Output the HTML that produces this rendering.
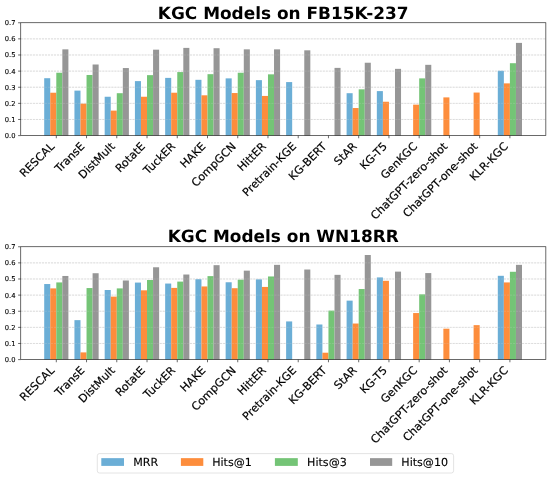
<!DOCTYPE html>
<html><head><meta charset="utf-8"><title>KGC Models</title>
<style>html,body{margin:0;padding:0;background:#fff}body{width:550px;height:477px;overflow:hidden}</style></head>
<body>
<svg width="550" height="477" viewBox="0 0 550 477" style="display:block" text-rendering="geometricPrecision">
<rect width="550" height="477" fill="#fff"/>
<text x="283.20" y="18.65" text-anchor="middle" font-family="'DejaVu Sans', 'Liberation Sans', sans-serif" font-weight="bold" font-size="16.93" fill="#000">KGC Models on FB15K-237</text>
<line x1="20.75" x2="545.85" y1="119.48" y2="119.48" stroke="#b0b0b0" stroke-opacity="0.7" stroke-width="0.6" stroke-dasharray="2.1 0.92"/>
<line x1="20.75" x2="545.85" y1="103.36" y2="103.36" stroke="#b0b0b0" stroke-opacity="0.7" stroke-width="0.6" stroke-dasharray="2.1 0.92"/>
<line x1="20.75" x2="545.85" y1="87.24" y2="87.24" stroke="#b0b0b0" stroke-opacity="0.7" stroke-width="0.6" stroke-dasharray="2.1 0.92"/>
<line x1="20.75" x2="545.85" y1="71.11" y2="71.11" stroke="#b0b0b0" stroke-opacity="0.7" stroke-width="0.6" stroke-dasharray="2.1 0.92"/>
<line x1="20.75" x2="545.85" y1="54.99" y2="54.99" stroke="#b0b0b0" stroke-opacity="0.7" stroke-width="0.6" stroke-dasharray="2.1 0.92"/>
<line x1="20.75" x2="545.85" y1="38.87" y2="38.87" stroke="#b0b0b0" stroke-opacity="0.7" stroke-width="0.6" stroke-dasharray="2.1 0.92"/>
<rect x="44.20" y="78.21" width="6.05" height="57.39" fill="#6baed6"/>
<rect x="50.25" y="92.72" width="6.05" height="42.88" fill="#fd8d3c"/>
<rect x="56.30" y="72.73" width="6.05" height="62.87" fill="#74c476"/>
<rect x="62.35" y="49.35" width="6.05" height="86.25" fill="#969696"/>
<rect x="74.44" y="90.62" width="6.05" height="44.98" fill="#6baed6"/>
<rect x="80.49" y="103.68" width="6.05" height="31.92" fill="#fd8d3c"/>
<rect x="86.54" y="74.98" width="6.05" height="60.62" fill="#74c476"/>
<rect x="92.59" y="64.50" width="6.05" height="71.10" fill="#969696"/>
<rect x="104.68" y="96.75" width="6.05" height="38.85" fill="#6baed6"/>
<rect x="110.73" y="110.61" width="6.05" height="24.99" fill="#fd8d3c"/>
<rect x="116.78" y="93.20" width="6.05" height="42.40" fill="#74c476"/>
<rect x="122.83" y="68.05" width="6.05" height="67.55" fill="#969696"/>
<rect x="134.92" y="81.11" width="6.05" height="54.49" fill="#6baed6"/>
<rect x="140.97" y="96.75" width="6.05" height="38.85" fill="#fd8d3c"/>
<rect x="147.02" y="75.14" width="6.05" height="60.46" fill="#74c476"/>
<rect x="153.07" y="49.67" width="6.05" height="85.93" fill="#969696"/>
<rect x="165.16" y="77.89" width="6.05" height="57.71" fill="#6baed6"/>
<rect x="171.21" y="92.72" width="6.05" height="42.88" fill="#fd8d3c"/>
<rect x="177.26" y="72.08" width="6.05" height="63.52" fill="#74c476"/>
<rect x="183.31" y="47.90" width="6.05" height="87.70" fill="#969696"/>
<rect x="195.40" y="79.82" width="6.05" height="55.78" fill="#6baed6"/>
<rect x="201.45" y="95.30" width="6.05" height="40.30" fill="#fd8d3c"/>
<rect x="207.50" y="74.18" width="6.05" height="61.42" fill="#74c476"/>
<rect x="213.55" y="48.22" width="6.05" height="87.38" fill="#969696"/>
<rect x="225.64" y="78.37" width="6.05" height="57.23" fill="#6baed6"/>
<rect x="231.69" y="93.04" width="6.05" height="42.56" fill="#fd8d3c"/>
<rect x="237.74" y="72.73" width="6.05" height="62.87" fill="#74c476"/>
<rect x="243.79" y="49.35" width="6.05" height="86.25" fill="#969696"/>
<rect x="255.88" y="80.14" width="6.05" height="55.46" fill="#6baed6"/>
<rect x="261.93" y="95.94" width="6.05" height="39.66" fill="#fd8d3c"/>
<rect x="267.98" y="74.34" width="6.05" height="61.26" fill="#74c476"/>
<rect x="274.03" y="49.35" width="6.05" height="86.25" fill="#969696"/>
<rect x="286.12" y="82.08" width="6.05" height="53.52" fill="#6baed6"/>
<rect x="304.27" y="50.32" width="6.05" height="85.28" fill="#969696"/>
<rect x="334.51" y="67.89" width="6.05" height="67.71" fill="#969696"/>
<rect x="346.60" y="93.20" width="6.05" height="42.40" fill="#6baed6"/>
<rect x="352.65" y="108.03" width="6.05" height="27.57" fill="#fd8d3c"/>
<rect x="358.70" y="89.33" width="6.05" height="46.27" fill="#74c476"/>
<rect x="364.75" y="62.73" width="6.05" height="72.87" fill="#969696"/>
<rect x="376.84" y="91.10" width="6.05" height="44.50" fill="#6baed6"/>
<rect x="382.89" y="101.74" width="6.05" height="33.86" fill="#fd8d3c"/>
<rect x="394.99" y="68.86" width="6.05" height="66.74" fill="#969696"/>
<rect x="413.13" y="104.65" width="6.05" height="30.95" fill="#fd8d3c"/>
<rect x="419.18" y="78.37" width="6.05" height="57.23" fill="#74c476"/>
<rect x="425.23" y="64.83" width="6.05" height="70.77" fill="#969696"/>
<rect x="443.37" y="97.39" width="6.05" height="38.21" fill="#fd8d3c"/>
<rect x="473.61" y="92.56" width="6.05" height="43.04" fill="#fd8d3c"/>
<rect x="497.80" y="70.79" width="6.05" height="64.81" fill="#6baed6"/>
<rect x="503.85" y="83.37" width="6.05" height="52.23" fill="#fd8d3c"/>
<rect x="509.90" y="63.21" width="6.05" height="72.39" fill="#74c476"/>
<rect x="515.95" y="42.90" width="6.05" height="92.70" fill="#969696"/>
<line x1="20.75" x2="545.85" y1="119.48" y2="119.48" stroke="#d8d8d8" stroke-opacity="0.35" stroke-width="0.6" stroke-dasharray="2.1 0.92"/>
<line x1="20.75" x2="545.85" y1="103.36" y2="103.36" stroke="#d8d8d8" stroke-opacity="0.35" stroke-width="0.6" stroke-dasharray="2.1 0.92"/>
<line x1="20.75" x2="545.85" y1="87.24" y2="87.24" stroke="#d8d8d8" stroke-opacity="0.35" stroke-width="0.6" stroke-dasharray="2.1 0.92"/>
<line x1="20.75" x2="545.85" y1="71.11" y2="71.11" stroke="#d8d8d8" stroke-opacity="0.35" stroke-width="0.6" stroke-dasharray="2.1 0.92"/>
<line x1="20.75" x2="545.85" y1="54.99" y2="54.99" stroke="#d8d8d8" stroke-opacity="0.35" stroke-width="0.6" stroke-dasharray="2.1 0.92"/>
<line x1="20.75" x2="545.85" y1="38.87" y2="38.87" stroke="#d8d8d8" stroke-opacity="0.35" stroke-width="0.6" stroke-dasharray="2.1 0.92"/>
<line x1="18.09" x2="20.75" y1="135.60" y2="135.60" stroke="#1a1a1a" stroke-width="0.65"/>
<text x="15.59" y="138.01" text-anchor="end" font-family="'DejaVu Sans', 'Liberation Sans', sans-serif" font-size="6.75" fill="#000" stroke="#000" stroke-width="0.12">0.0</text>
<line x1="18.09" x2="20.75" y1="119.48" y2="119.48" stroke="#1a1a1a" stroke-width="0.65"/>
<text x="15.59" y="121.89" text-anchor="end" font-family="'DejaVu Sans', 'Liberation Sans', sans-serif" font-size="6.75" fill="#000" stroke="#000" stroke-width="0.12">0.1</text>
<line x1="18.09" x2="20.75" y1="103.36" y2="103.36" stroke="#1a1a1a" stroke-width="0.65"/>
<text x="15.59" y="105.77" text-anchor="end" font-family="'DejaVu Sans', 'Liberation Sans', sans-serif" font-size="6.75" fill="#000" stroke="#000" stroke-width="0.12">0.2</text>
<line x1="18.09" x2="20.75" y1="87.24" y2="87.24" stroke="#1a1a1a" stroke-width="0.65"/>
<text x="15.59" y="89.65" text-anchor="end" font-family="'DejaVu Sans', 'Liberation Sans', sans-serif" font-size="6.75" fill="#000" stroke="#000" stroke-width="0.12">0.3</text>
<line x1="18.09" x2="20.75" y1="71.11" y2="71.11" stroke="#1a1a1a" stroke-width="0.65"/>
<text x="15.59" y="73.53" text-anchor="end" font-family="'DejaVu Sans', 'Liberation Sans', sans-serif" font-size="6.75" fill="#000" stroke="#000" stroke-width="0.12">0.4</text>
<line x1="18.09" x2="20.75" y1="54.99" y2="54.99" stroke="#1a1a1a" stroke-width="0.65"/>
<text x="15.59" y="57.41" text-anchor="end" font-family="'DejaVu Sans', 'Liberation Sans', sans-serif" font-size="6.75" fill="#000" stroke="#000" stroke-width="0.12">0.5</text>
<line x1="18.09" x2="20.75" y1="38.87" y2="38.87" stroke="#1a1a1a" stroke-width="0.65"/>
<text x="15.59" y="41.29" text-anchor="end" font-family="'DejaVu Sans', 'Liberation Sans', sans-serif" font-size="6.75" fill="#000" stroke="#000" stroke-width="0.12">0.6</text>
<line x1="18.09" x2="20.75" y1="22.75" y2="22.75" stroke="#1a1a1a" stroke-width="0.65"/>
<text x="15.59" y="25.16" text-anchor="end" font-family="'DejaVu Sans', 'Liberation Sans', sans-serif" font-size="6.75" fill="#000" stroke="#000" stroke-width="0.12">0.7</text>
<line x1="56.30" x2="56.30" y1="135.6" y2="138.26" stroke="#1a1a1a" stroke-width="0.65"/>
<text transform="translate(55.10,147.10) rotate(-45)" text-anchor="end" font-family="'DejaVu Sans', 'Liberation Sans', sans-serif" font-size="11.15" fill="#000" stroke="#000" stroke-width="0.18">RESCAL</text>
<line x1="86.54" x2="86.54" y1="135.6" y2="138.26" stroke="#1a1a1a" stroke-width="0.65"/>
<text transform="translate(85.34,147.10) rotate(-45)" text-anchor="end" font-family="'DejaVu Sans', 'Liberation Sans', sans-serif" font-size="11.15" fill="#000" stroke="#000" stroke-width="0.18">TransE</text>
<line x1="116.78" x2="116.78" y1="135.6" y2="138.26" stroke="#1a1a1a" stroke-width="0.65"/>
<text transform="translate(115.58,147.10) rotate(-45)" text-anchor="end" font-family="'DejaVu Sans', 'Liberation Sans', sans-serif" font-size="11.15" fill="#000" stroke="#000" stroke-width="0.18">DistMult</text>
<line x1="147.02" x2="147.02" y1="135.6" y2="138.26" stroke="#1a1a1a" stroke-width="0.65"/>
<text transform="translate(145.82,147.10) rotate(-45)" text-anchor="end" font-family="'DejaVu Sans', 'Liberation Sans', sans-serif" font-size="11.15" fill="#000" stroke="#000" stroke-width="0.18">RotatE</text>
<line x1="177.26" x2="177.26" y1="135.6" y2="138.26" stroke="#1a1a1a" stroke-width="0.65"/>
<text transform="translate(176.06,147.10) rotate(-45)" text-anchor="end" font-family="'DejaVu Sans', 'Liberation Sans', sans-serif" font-size="11.15" fill="#000" stroke="#000" stroke-width="0.18">TuckER</text>
<line x1="207.50" x2="207.50" y1="135.6" y2="138.26" stroke="#1a1a1a" stroke-width="0.65"/>
<text transform="translate(206.30,147.10) rotate(-45)" text-anchor="end" font-family="'DejaVu Sans', 'Liberation Sans', sans-serif" font-size="11.15" fill="#000" stroke="#000" stroke-width="0.18">HAKE</text>
<line x1="237.74" x2="237.74" y1="135.6" y2="138.26" stroke="#1a1a1a" stroke-width="0.65"/>
<text transform="translate(236.54,147.10) rotate(-45)" text-anchor="end" font-family="'DejaVu Sans', 'Liberation Sans', sans-serif" font-size="11.15" fill="#000" stroke="#000" stroke-width="0.18">CompGCN</text>
<line x1="267.98" x2="267.98" y1="135.6" y2="138.26" stroke="#1a1a1a" stroke-width="0.65"/>
<text transform="translate(266.78,147.10) rotate(-45)" text-anchor="end" font-family="'DejaVu Sans', 'Liberation Sans', sans-serif" font-size="11.15" fill="#000" stroke="#000" stroke-width="0.18">HittER</text>
<line x1="298.22" x2="298.22" y1="135.6" y2="138.26" stroke="#1a1a1a" stroke-width="0.65"/>
<text transform="translate(297.02,147.10) rotate(-45)" text-anchor="end" font-family="'DejaVu Sans', 'Liberation Sans', sans-serif" font-size="11.15" fill="#000" stroke="#000" stroke-width="0.18">Pretrain-KGE</text>
<line x1="328.46" x2="328.46" y1="135.6" y2="138.26" stroke="#1a1a1a" stroke-width="0.65"/>
<text transform="translate(327.26,147.10) rotate(-45)" text-anchor="end" font-family="'DejaVu Sans', 'Liberation Sans', sans-serif" font-size="11.15" fill="#000" stroke="#000" stroke-width="0.18">KG-BERT</text>
<line x1="358.70" x2="358.70" y1="135.6" y2="138.26" stroke="#1a1a1a" stroke-width="0.65"/>
<text transform="translate(357.50,147.10) rotate(-45)" text-anchor="end" font-family="'DejaVu Sans', 'Liberation Sans', sans-serif" font-size="11.15" fill="#000" stroke="#000" stroke-width="0.18">StAR</text>
<line x1="388.94" x2="388.94" y1="135.6" y2="138.26" stroke="#1a1a1a" stroke-width="0.65"/>
<text transform="translate(387.74,147.10) rotate(-45)" text-anchor="end" font-family="'DejaVu Sans', 'Liberation Sans', sans-serif" font-size="11.15" fill="#000" stroke="#000" stroke-width="0.18">KG-T5</text>
<line x1="419.18" x2="419.18" y1="135.6" y2="138.26" stroke="#1a1a1a" stroke-width="0.65"/>
<text transform="translate(417.98,147.10) rotate(-45)" text-anchor="end" font-family="'DejaVu Sans', 'Liberation Sans', sans-serif" font-size="11.15" fill="#000" stroke="#000" stroke-width="0.18">GenKGC</text>
<line x1="449.42" x2="449.42" y1="135.6" y2="138.26" stroke="#1a1a1a" stroke-width="0.65"/>
<text transform="translate(448.22,147.10) rotate(-45)" text-anchor="end" font-family="'DejaVu Sans', 'Liberation Sans', sans-serif" font-size="11.15" fill="#000" stroke="#000" stroke-width="0.18">ChatGPT-zero-shot</text>
<line x1="479.66" x2="479.66" y1="135.6" y2="138.26" stroke="#1a1a1a" stroke-width="0.65"/>
<text transform="translate(478.46,147.10) rotate(-45)" text-anchor="end" font-family="'DejaVu Sans', 'Liberation Sans', sans-serif" font-size="11.15" fill="#000" stroke="#000" stroke-width="0.18">ChatGPT-one-shot</text>
<line x1="509.90" x2="509.90" y1="135.6" y2="138.26" stroke="#1a1a1a" stroke-width="0.65"/>
<text transform="translate(508.70,147.10) rotate(-45)" text-anchor="end" font-family="'DejaVu Sans', 'Liberation Sans', sans-serif" font-size="11.15" fill="#000" stroke="#000" stroke-width="0.18">KLR-KGC</text>
<rect x="20.75" y="22.75" width="525.10" height="112.85" fill="none" stroke="#1a1a1a" stroke-width="0.65"/>
<text x="283.20" y="242.45" text-anchor="middle" font-family="'DejaVu Sans', 'Liberation Sans', sans-serif" font-weight="bold" font-size="16.93" fill="#000">KGC Models on WN18RR</text>
<line x1="20.75" x2="545.85" y1="343.48" y2="343.48" stroke="#b0b0b0" stroke-opacity="0.7" stroke-width="0.6" stroke-dasharray="2.1 0.92"/>
<line x1="20.75" x2="545.85" y1="327.36" y2="327.36" stroke="#b0b0b0" stroke-opacity="0.7" stroke-width="0.6" stroke-dasharray="2.1 0.92"/>
<line x1="20.75" x2="545.85" y1="311.24" y2="311.24" stroke="#b0b0b0" stroke-opacity="0.7" stroke-width="0.6" stroke-dasharray="2.1 0.92"/>
<line x1="20.75" x2="545.85" y1="295.11" y2="295.11" stroke="#b0b0b0" stroke-opacity="0.7" stroke-width="0.6" stroke-dasharray="2.1 0.92"/>
<line x1="20.75" x2="545.85" y1="278.99" y2="278.99" stroke="#b0b0b0" stroke-opacity="0.7" stroke-width="0.6" stroke-dasharray="2.1 0.92"/>
<line x1="20.75" x2="545.85" y1="262.87" y2="262.87" stroke="#b0b0b0" stroke-opacity="0.7" stroke-width="0.6" stroke-dasharray="2.1 0.92"/>
<rect x="44.20" y="284.03" width="6.05" height="75.57" fill="#6baed6"/>
<rect x="50.25" y="288.39" width="6.05" height="71.21" fill="#fd8d3c"/>
<rect x="56.30" y="282.42" width="6.05" height="77.18" fill="#74c476"/>
<rect x="62.35" y="275.97" width="6.05" height="83.63" fill="#969696"/>
<rect x="74.44" y="320.14" width="6.05" height="39.46" fill="#6baed6"/>
<rect x="80.49" y="352.39" width="6.05" height="7.21" fill="#fd8d3c"/>
<rect x="86.54" y="288.06" width="6.05" height="71.54" fill="#74c476"/>
<rect x="92.59" y="273.23" width="6.05" height="86.37" fill="#969696"/>
<rect x="104.68" y="290.00" width="6.05" height="69.60" fill="#6baed6"/>
<rect x="110.73" y="296.61" width="6.05" height="62.99" fill="#fd8d3c"/>
<rect x="116.78" y="288.39" width="6.05" height="71.21" fill="#74c476"/>
<rect x="122.83" y="280.49" width="6.05" height="79.11" fill="#969696"/>
<rect x="134.92" y="282.58" width="6.05" height="77.02" fill="#6baed6"/>
<rect x="140.97" y="290.32" width="6.05" height="69.28" fill="#fd8d3c"/>
<rect x="147.02" y="280.00" width="6.05" height="79.60" fill="#74c476"/>
<rect x="153.07" y="267.27" width="6.05" height="92.33" fill="#969696"/>
<rect x="165.16" y="283.55" width="6.05" height="76.05" fill="#6baed6"/>
<rect x="171.21" y="287.90" width="6.05" height="71.70" fill="#fd8d3c"/>
<rect x="177.26" y="281.61" width="6.05" height="77.99" fill="#74c476"/>
<rect x="183.31" y="274.52" width="6.05" height="85.08" fill="#969696"/>
<rect x="195.40" y="279.20" width="6.05" height="80.40" fill="#6baed6"/>
<rect x="201.45" y="286.45" width="6.05" height="73.15" fill="#fd8d3c"/>
<rect x="207.50" y="276.13" width="6.05" height="83.47" fill="#74c476"/>
<rect x="213.55" y="265.17" width="6.05" height="94.43" fill="#969696"/>
<rect x="225.64" y="282.26" width="6.05" height="77.34" fill="#6baed6"/>
<rect x="231.69" y="288.22" width="6.05" height="71.38" fill="#fd8d3c"/>
<rect x="237.74" y="279.68" width="6.05" height="79.92" fill="#74c476"/>
<rect x="243.79" y="270.65" width="6.05" height="88.95" fill="#969696"/>
<rect x="255.88" y="279.36" width="6.05" height="80.24" fill="#6baed6"/>
<rect x="261.93" y="286.93" width="6.05" height="72.67" fill="#fd8d3c"/>
<rect x="267.98" y="276.46" width="6.05" height="83.14" fill="#74c476"/>
<rect x="274.03" y="264.85" width="6.05" height="94.75" fill="#969696"/>
<rect x="286.12" y="321.43" width="6.05" height="38.17" fill="#6baed6"/>
<rect x="304.27" y="269.52" width="6.05" height="90.08" fill="#969696"/>
<rect x="316.36" y="324.50" width="6.05" height="35.10" fill="#6baed6"/>
<rect x="322.41" y="352.71" width="6.05" height="6.89" fill="#fd8d3c"/>
<rect x="328.46" y="310.63" width="6.05" height="48.97" fill="#74c476"/>
<rect x="334.51" y="274.84" width="6.05" height="84.76" fill="#969696"/>
<rect x="346.60" y="300.64" width="6.05" height="58.96" fill="#6baed6"/>
<rect x="352.65" y="323.53" width="6.05" height="36.07" fill="#fd8d3c"/>
<rect x="358.70" y="289.03" width="6.05" height="70.57" fill="#74c476"/>
<rect x="364.75" y="255.01" width="6.05" height="104.59" fill="#969696"/>
<rect x="376.84" y="277.42" width="6.05" height="82.18" fill="#6baed6"/>
<rect x="382.89" y="280.81" width="6.05" height="78.79" fill="#fd8d3c"/>
<rect x="394.99" y="271.62" width="6.05" height="87.98" fill="#969696"/>
<rect x="413.13" y="313.05" width="6.05" height="46.55" fill="#fd8d3c"/>
<rect x="419.18" y="294.35" width="6.05" height="65.25" fill="#74c476"/>
<rect x="425.23" y="273.07" width="6.05" height="86.53" fill="#969696"/>
<rect x="443.37" y="328.69" width="6.05" height="30.91" fill="#fd8d3c"/>
<rect x="473.61" y="325.14" width="6.05" height="34.46" fill="#fd8d3c"/>
<rect x="497.80" y="275.81" width="6.05" height="83.79" fill="#6baed6"/>
<rect x="503.85" y="282.42" width="6.05" height="77.18" fill="#fd8d3c"/>
<rect x="509.90" y="271.78" width="6.05" height="87.82" fill="#74c476"/>
<rect x="515.95" y="264.85" width="6.05" height="94.75" fill="#969696"/>
<line x1="20.75" x2="545.85" y1="343.48" y2="343.48" stroke="#d8d8d8" stroke-opacity="0.35" stroke-width="0.6" stroke-dasharray="2.1 0.92"/>
<line x1="20.75" x2="545.85" y1="327.36" y2="327.36" stroke="#d8d8d8" stroke-opacity="0.35" stroke-width="0.6" stroke-dasharray="2.1 0.92"/>
<line x1="20.75" x2="545.85" y1="311.24" y2="311.24" stroke="#d8d8d8" stroke-opacity="0.35" stroke-width="0.6" stroke-dasharray="2.1 0.92"/>
<line x1="20.75" x2="545.85" y1="295.11" y2="295.11" stroke="#d8d8d8" stroke-opacity="0.35" stroke-width="0.6" stroke-dasharray="2.1 0.92"/>
<line x1="20.75" x2="545.85" y1="278.99" y2="278.99" stroke="#d8d8d8" stroke-opacity="0.35" stroke-width="0.6" stroke-dasharray="2.1 0.92"/>
<line x1="20.75" x2="545.85" y1="262.87" y2="262.87" stroke="#d8d8d8" stroke-opacity="0.35" stroke-width="0.6" stroke-dasharray="2.1 0.92"/>
<line x1="18.09" x2="20.75" y1="359.60" y2="359.60" stroke="#1a1a1a" stroke-width="0.65"/>
<text x="15.59" y="362.02" text-anchor="end" font-family="'DejaVu Sans', 'Liberation Sans', sans-serif" font-size="6.75" fill="#000" stroke="#000" stroke-width="0.12">0.0</text>
<line x1="18.09" x2="20.75" y1="343.48" y2="343.48" stroke="#1a1a1a" stroke-width="0.65"/>
<text x="15.59" y="345.89" text-anchor="end" font-family="'DejaVu Sans', 'Liberation Sans', sans-serif" font-size="6.75" fill="#000" stroke="#000" stroke-width="0.12">0.1</text>
<line x1="18.09" x2="20.75" y1="327.36" y2="327.36" stroke="#1a1a1a" stroke-width="0.65"/>
<text x="15.59" y="329.77" text-anchor="end" font-family="'DejaVu Sans', 'Liberation Sans', sans-serif" font-size="6.75" fill="#000" stroke="#000" stroke-width="0.12">0.2</text>
<line x1="18.09" x2="20.75" y1="311.24" y2="311.24" stroke="#1a1a1a" stroke-width="0.65"/>
<text x="15.59" y="313.65" text-anchor="end" font-family="'DejaVu Sans', 'Liberation Sans', sans-serif" font-size="6.75" fill="#000" stroke="#000" stroke-width="0.12">0.3</text>
<line x1="18.09" x2="20.75" y1="295.11" y2="295.11" stroke="#1a1a1a" stroke-width="0.65"/>
<text x="15.59" y="297.53" text-anchor="end" font-family="'DejaVu Sans', 'Liberation Sans', sans-serif" font-size="6.75" fill="#000" stroke="#000" stroke-width="0.12">0.4</text>
<line x1="18.09" x2="20.75" y1="278.99" y2="278.99" stroke="#1a1a1a" stroke-width="0.65"/>
<text x="15.59" y="281.41" text-anchor="end" font-family="'DejaVu Sans', 'Liberation Sans', sans-serif" font-size="6.75" fill="#000" stroke="#000" stroke-width="0.12">0.5</text>
<line x1="18.09" x2="20.75" y1="262.87" y2="262.87" stroke="#1a1a1a" stroke-width="0.65"/>
<text x="15.59" y="265.29" text-anchor="end" font-family="'DejaVu Sans', 'Liberation Sans', sans-serif" font-size="6.75" fill="#000" stroke="#000" stroke-width="0.12">0.6</text>
<line x1="18.09" x2="20.75" y1="246.75" y2="246.75" stroke="#1a1a1a" stroke-width="0.65"/>
<text x="15.59" y="249.16" text-anchor="end" font-family="'DejaVu Sans', 'Liberation Sans', sans-serif" font-size="6.75" fill="#000" stroke="#000" stroke-width="0.12">0.7</text>
<line x1="56.30" x2="56.30" y1="359.6" y2="362.26" stroke="#1a1a1a" stroke-width="0.65"/>
<text transform="translate(55.10,371.10) rotate(-45)" text-anchor="end" font-family="'DejaVu Sans', 'Liberation Sans', sans-serif" font-size="11.15" fill="#000" stroke="#000" stroke-width="0.18">RESCAL</text>
<line x1="86.54" x2="86.54" y1="359.6" y2="362.26" stroke="#1a1a1a" stroke-width="0.65"/>
<text transform="translate(85.34,371.10) rotate(-45)" text-anchor="end" font-family="'DejaVu Sans', 'Liberation Sans', sans-serif" font-size="11.15" fill="#000" stroke="#000" stroke-width="0.18">TransE</text>
<line x1="116.78" x2="116.78" y1="359.6" y2="362.26" stroke="#1a1a1a" stroke-width="0.65"/>
<text transform="translate(115.58,371.10) rotate(-45)" text-anchor="end" font-family="'DejaVu Sans', 'Liberation Sans', sans-serif" font-size="11.15" fill="#000" stroke="#000" stroke-width="0.18">DistMult</text>
<line x1="147.02" x2="147.02" y1="359.6" y2="362.26" stroke="#1a1a1a" stroke-width="0.65"/>
<text transform="translate(145.82,371.10) rotate(-45)" text-anchor="end" font-family="'DejaVu Sans', 'Liberation Sans', sans-serif" font-size="11.15" fill="#000" stroke="#000" stroke-width="0.18">RotatE</text>
<line x1="177.26" x2="177.26" y1="359.6" y2="362.26" stroke="#1a1a1a" stroke-width="0.65"/>
<text transform="translate(176.06,371.10) rotate(-45)" text-anchor="end" font-family="'DejaVu Sans', 'Liberation Sans', sans-serif" font-size="11.15" fill="#000" stroke="#000" stroke-width="0.18">TuckER</text>
<line x1="207.50" x2="207.50" y1="359.6" y2="362.26" stroke="#1a1a1a" stroke-width="0.65"/>
<text transform="translate(206.30,371.10) rotate(-45)" text-anchor="end" font-family="'DejaVu Sans', 'Liberation Sans', sans-serif" font-size="11.15" fill="#000" stroke="#000" stroke-width="0.18">HAKE</text>
<line x1="237.74" x2="237.74" y1="359.6" y2="362.26" stroke="#1a1a1a" stroke-width="0.65"/>
<text transform="translate(236.54,371.10) rotate(-45)" text-anchor="end" font-family="'DejaVu Sans', 'Liberation Sans', sans-serif" font-size="11.15" fill="#000" stroke="#000" stroke-width="0.18">CompGCN</text>
<line x1="267.98" x2="267.98" y1="359.6" y2="362.26" stroke="#1a1a1a" stroke-width="0.65"/>
<text transform="translate(266.78,371.10) rotate(-45)" text-anchor="end" font-family="'DejaVu Sans', 'Liberation Sans', sans-serif" font-size="11.15" fill="#000" stroke="#000" stroke-width="0.18">HittER</text>
<line x1="298.22" x2="298.22" y1="359.6" y2="362.26" stroke="#1a1a1a" stroke-width="0.65"/>
<text transform="translate(297.02,371.10) rotate(-45)" text-anchor="end" font-family="'DejaVu Sans', 'Liberation Sans', sans-serif" font-size="11.15" fill="#000" stroke="#000" stroke-width="0.18">Pretrain-KGE</text>
<line x1="328.46" x2="328.46" y1="359.6" y2="362.26" stroke="#1a1a1a" stroke-width="0.65"/>
<text transform="translate(327.26,371.10) rotate(-45)" text-anchor="end" font-family="'DejaVu Sans', 'Liberation Sans', sans-serif" font-size="11.15" fill="#000" stroke="#000" stroke-width="0.18">KG-BERT</text>
<line x1="358.70" x2="358.70" y1="359.6" y2="362.26" stroke="#1a1a1a" stroke-width="0.65"/>
<text transform="translate(357.50,371.10) rotate(-45)" text-anchor="end" font-family="'DejaVu Sans', 'Liberation Sans', sans-serif" font-size="11.15" fill="#000" stroke="#000" stroke-width="0.18">StAR</text>
<line x1="388.94" x2="388.94" y1="359.6" y2="362.26" stroke="#1a1a1a" stroke-width="0.65"/>
<text transform="translate(387.74,371.10) rotate(-45)" text-anchor="end" font-family="'DejaVu Sans', 'Liberation Sans', sans-serif" font-size="11.15" fill="#000" stroke="#000" stroke-width="0.18">KG-T5</text>
<line x1="419.18" x2="419.18" y1="359.6" y2="362.26" stroke="#1a1a1a" stroke-width="0.65"/>
<text transform="translate(417.98,371.10) rotate(-45)" text-anchor="end" font-family="'DejaVu Sans', 'Liberation Sans', sans-serif" font-size="11.15" fill="#000" stroke="#000" stroke-width="0.18">GenKGC</text>
<line x1="449.42" x2="449.42" y1="359.6" y2="362.26" stroke="#1a1a1a" stroke-width="0.65"/>
<text transform="translate(448.22,371.10) rotate(-45)" text-anchor="end" font-family="'DejaVu Sans', 'Liberation Sans', sans-serif" font-size="11.15" fill="#000" stroke="#000" stroke-width="0.18">ChatGPT-zero-shot</text>
<line x1="479.66" x2="479.66" y1="359.6" y2="362.26" stroke="#1a1a1a" stroke-width="0.65"/>
<text transform="translate(478.46,371.10) rotate(-45)" text-anchor="end" font-family="'DejaVu Sans', 'Liberation Sans', sans-serif" font-size="11.15" fill="#000" stroke="#000" stroke-width="0.18">ChatGPT-one-shot</text>
<line x1="509.90" x2="509.90" y1="359.6" y2="362.26" stroke="#1a1a1a" stroke-width="0.65"/>
<text transform="translate(508.70,371.10) rotate(-45)" text-anchor="end" font-family="'DejaVu Sans', 'Liberation Sans', sans-serif" font-size="11.15" fill="#000" stroke="#000" stroke-width="0.18">KLR-KGC</text>
<rect x="20.75" y="246.75" width="525.10" height="112.85" fill="none" stroke="#1a1a1a" stroke-width="0.65"/>
<rect x="97.3" y="453.6" width="356.30" height="19.40" rx="2.2" ry="2.2" fill="#fff" fill-opacity="0.8" stroke="#cccccc" stroke-opacity="0.7" stroke-width="0.76"/>
<rect x="101.3" y="458.15" width="22.70" height="7.75" fill="#6baed6"/>
<text x="133.2" y="466.0" font-family="'DejaVu Sans', 'Liberation Sans', sans-serif" font-size="11.1" fill="#000" stroke="#000" stroke-width="0.12">MRR</text>
<rect x="180.9" y="458.15" width="22.40" height="7.75" fill="#fd8d3c"/>
<text x="212.2" y="466.0" font-family="'DejaVu Sans', 'Liberation Sans', sans-serif" font-size="11.1" fill="#000" stroke="#000" stroke-width="0.12">Hits@1</text>
<rect x="274.9" y="458.15" width="22.90" height="7.75" fill="#74c476"/>
<text x="307.1" y="466.0" font-family="'DejaVu Sans', 'Liberation Sans', sans-serif" font-size="11.1" fill="#000" stroke="#000" stroke-width="0.12">Hits@3</text>
<rect x="370.0" y="458.15" width="22.20" height="7.75" fill="#969696"/>
<text x="401.3" y="466.0" font-family="'DejaVu Sans', 'Liberation Sans', sans-serif" font-size="11.1" fill="#000" stroke="#000" stroke-width="0.12">Hits@10</text>
</svg>
</body></html>
